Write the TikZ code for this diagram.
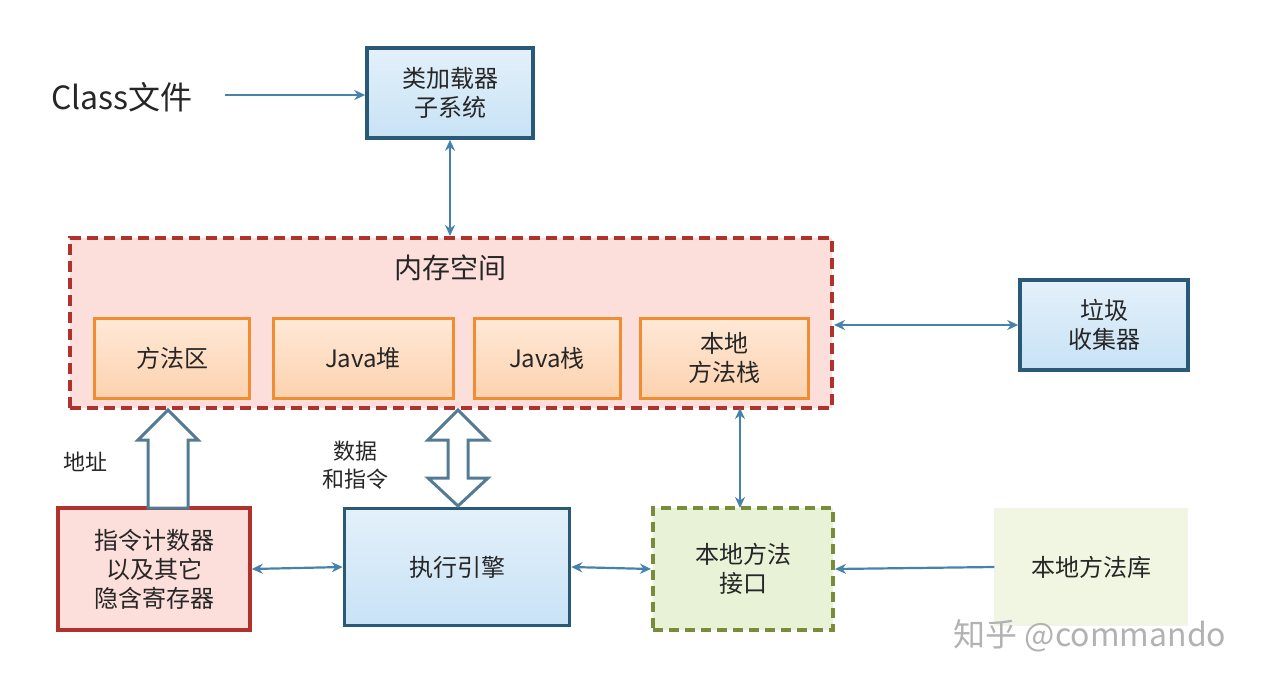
\documentclass[tikz,border=0pt]{standalone}
\usepackage{fontspec}
\setmainfont{Noto Sans CJK SC}
\usetikzlibrary{arrows.meta}
\definecolor{arr}{RGB}{70,130,170}
\definecolor{bluebd}{RGB}{40,90,120}
\definecolor{bluefill}{RGB}{200,226,245}
\definecolor{redbd}{RGB}{175,50,45}
\definecolor{pinkfill}{RGB}{252,222,218}
\definecolor{orbd}{RGB}{240,140,50}
\definecolor{orfill}{RGB}{253,210,175}
\definecolor{grbd}{RGB}{120,140,60}
\definecolor{grfill}{RGB}{232,242,215}
\definecolor{lgfill}{RGB}{240,246,225}
\begin{document}
\begin{tikzpicture}[x=1pt,y=-1pt,
  txt/.style={font=\fontsize{24}{29}\selectfont, text=black!85, align=center},
  bluebox/.style={draw=bluebd,line width=3.5pt,top color=bluefill!50,bottom color=bluefill,txt},
  orbox/.style={draw=orbd,line width=3pt,top color=orfill!50,bottom color=orfill,txt},
  conn/.style={arr,line width=2.2pt,{Stealth[length=11pt,width=10pt]}-{Stealth[length=11pt,width=10pt]}},
  hollow/.style={draw=bluebd!80,line width=3pt,fill=white}]
\useasboundingbox (0,0) rectangle (1286,689);
\node[txt,font=\fontsize{32}{36}\selectfont] (cls) at (122,97) {Class文件};
\node[bluebox,minimum width=166pt,minimum height=90pt] (cl) at (450,93) {类加载器\\子系统};
\coordinate (c0) at (225,95);
\draw[arr,line width=2.2pt,-{Stealth[length=11pt,width=10pt]}] (c0) -- (c0 -| cl.west);
\node[draw=redbd,line width=4pt,dash pattern=on 11pt off 6pt,fill=pinkfill,minimum width=762pt,minimum height=170pt] (mem) at (451,323) {};
\node[txt,font=\fontsize{28}{32}\selectfont] (memt) at (450,268) {内存空间};
\node[orbox,minimum width=155pt,minimum height=80pt] (m1) at (172,358) {方法区};
\node[orbox,minimum width=180pt,minimum height=80pt] (m2) at (363,358) {Java堆};
\node[orbox,minimum width=146pt,minimum height=80pt] (m3) at (547,358) {Java栈};
\node[orbox,minimum width=168pt,minimum height=80pt] (m4) at (724,358) {本地\\方法栈};
\node[bluebox,minimum width=168pt,minimum height=90pt] (gc) at (1104,325) {垃圾\\收集器};
\draw[conn] (cl.south) -- (cl.south |- mem.north);
\draw[conn] (mem.east |- gc.west) -- (gc.west);
\node[draw=redbd,line width=3.5pt,fill=pinkfill,txt,minimum width=192pt,minimum height=122pt] (pc) at (154,569) {指令计数器\\以及其它\\隐含寄存器};
\node[bluebox,minimum width=225pt,minimum height=117pt] (ex) at (457,567) {执行引擎};
\node[draw=grbd,line width=4pt,dash pattern=on 10pt off 6pt,fill=grfill,txt,minimum width=180pt,minimum height=122pt] (ni) at (743,569) {本地方法\\接口};
\node[fill=lgfill,draw=lgfill!80!black!20,txt,minimum width=193pt,minimum height=117pt] (nl) at (1091,567) {本地方法库};
\draw[conn] (740,408) -- (740,508);
\draw[conn] (pc.east) -- (ex.west);
\draw[conn] (ex.east) -- (ni.west);
\draw[arr,line width=2.2pt,-{Stealth[length=11pt,width=10pt]}] (nl.west) -- (ni.east);
\draw[hollow] (148,508) -- (148,440) -- (138,440) -- (168,410) -- (198,440) -- (188,440) -- (188,508) -- cycle;
\draw[hollow] (448,478) -- (428,478) -- (458,506) -- (488,478) -- (468,478) -- (468,440) -- (488,440) -- (458,410) -- (428,440) -- (448,440) -- cycle;
\node[txt,font=\fontsize{22}{28}\selectfont] (addr) at (85,462) {地址};
\node[txt,font=\fontsize{22}{28}\selectfont] (dat) at (355,465) {数据\\和指令};
\node[text=black!30,font=\fontsize{32}{36}\selectfont] (wm) at (1090,636) {知乎 @commando};
\end{tikzpicture}
\end{document}
